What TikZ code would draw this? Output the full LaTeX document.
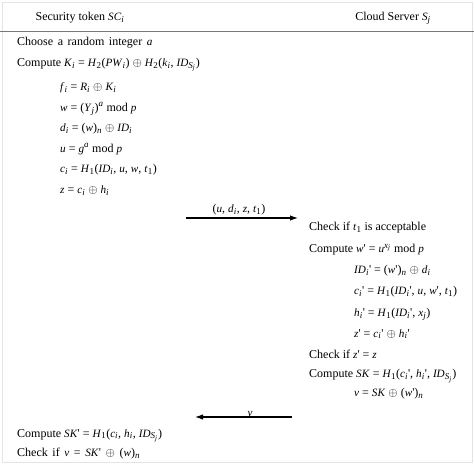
\documentclass[tikz,border=0pt]{standalone}
\usepackage{mathptmx}
\usepackage{fontspec}
\setmainfont{Liberation Serif}
\usetikzlibrary{arrows.meta,positioning}
\definecolor{rulegray}{RGB}{120,120,120}
\definecolor{framegray}{RGB}{228,228,228}
\newcommand{\m}[1]{{\fontsize{11.2}{13}\selectfont\itshape #1\/}}
\newcommand{\low}[1]{\textsubscript{\textit{#1}}}
\newcommand{\high}[1]{\textsuperscript{\textit{#1}}}
\newcommand{\num}[1]{\textsubscript{#1}}
\newcommand{\prm}{\textquotesingle}
\newcommand{\xor}{$\oplus$}

\begin{document}
\begin{tikzpicture}[x=1pt,y=1pt,node distance=7.6pt,
  every node/.style={font=\fontsize{12}{14}\selectfont,inner sep=0pt,text height=9pt,text depth=3.5pt,anchor=base west},
  wide/.style={execute at begin node={\spaceskip=4.6pt plus 1pt}},
  msg/.style={-{Latex[length=8pt,width=5.5pt]},line width=1.1pt}]
  \useasboundingbox (0,0) rectangle (474,-465);
  \draw[framegray] (2,-2) rectangle (472,-462);
  % header
  \node[anchor=base] (sc) at (80,-21) {Security token \m{SC}\low{i}};
  \node[anchor=base] (cs) at (393,-21) {Cloud Server \m{S}\low{j}};
  \draw[rulegray] (0,-31) -- (474,-31);
  % security token side
  \node[wide] (choose) at (17,-46) {Choose a random integer \m{a}};
  \node[below=7.5pt of choose.south west,anchor=north west] (ki)
    {Compute \m{K}\low{i} = \m{H}\num{2}(\m{PW}\low{i}) \xor{} \m{H}\num{2}(\m{k}\low{i}, \m{ID}\low{S\low{j}})};
  \node[below=11.5pt of ki.south west,anchor=north west,xshift=43pt] (fi) {\m{f}\low{i} = \m{R}\low{i} \xor{} \m{K}\low{i}};
  \node[below=of fi.south west,anchor=north west] (w) {\m{w} = (\m{Y}\low{j})\high{a} mod \m{p}};
  \node[below=of w.south west,anchor=north west] (di) {\m{d}\low{i} = (\m{w})\low{n} \xor{} \m{ID}\low{i}};
  \node[below=of di.south west,anchor=north west] (u) {\m{u} = \m{g}\high{a} mod \m{p}};
  \node[below=of u.south west,anchor=north west] (ci) {\m{c}\low{i} = \m{H}\num{1}(\m{ID}\low{i}, \m{u}, \m{w}, \m{t}\num{1})};
  \node[below=of ci.south west,anchor=north west] (z) {\m{z} = \m{c}\low{i} \xor{} \m{h}\low{i}};
  % first message
  \coordinate (m1s) at (186,-218);
  \coordinate (m1e) at (298,-218);
  \draw[msg] (m1s) -- (m1e) node[midway,above=1.5pt,anchor=south,xshift=-3pt] (m1) {(\m{u}, \m{d}\low{i}, \m{z}, \m{t}\num{1})};
  % cloud server side
  \node (chk) at (309,-231) {Check if \m{t}\num{1} is acceptable};
  \node[below=8.5pt of chk.south west,anchor=north west] (wp) {Compute \m{w}\prm{} = \m{u}\high{x\low{j}} mod \m{p}};
  \node[below=8.5pt of wp.south west,anchor=north west,xshift=45pt] (idp) {\m{ID}\low{i}\prm{} = (\m{w}\prm)\low{n} \xor{} \m{d}\low{i}};
  \node[below=8pt of idp.south west,anchor=north west] (cp) {\m{c}\low{i}\prm{} = \m{H}\num{1}(\m{ID}\low{i}\prm, \m{u}, \m{w}\prm, \m{t}\num{1})};
  \node[below=9pt of cp.south west,anchor=north west] (hp) {\m{h}\low{i}\prm{} = \m{H}\num{1}(\m{ID}\low{i}\prm, \m{x}\low{j})};
  \node[below=7.5pt of hp.south west,anchor=north west] (zp) {\m{z}\prm{} = \m{c}\low{i}\prm{} \xor{} \m{h}\low{i}\prm};
  \node[below=8.5pt of zp.south west,anchor=north west,xshift=-45pt] (chz) {Check if \m{z}\prm{} = \m{z}};
  \node[below=6.5pt of chz.south west,anchor=north west] (sk) {Compute \m{SK} = \m{H}\num{1}(\m{c}\low{i}\prm, \m{h}\low{i}\prm, \m{ID}\low{S\low{j}})};
  \node[below=6pt of sk.south west,anchor=north west,xshift=45pt] (v) {\m{v} = \m{SK} \xor{} (\m{w}\prm)\low{n}};
  % second message
  \coordinate (m2s) at (292,-417);
  \coordinate (m2e) at (195,-417);
  \draw[msg] (m2s) -- (m2e);
  \node[anchor=base] (m2) at (250,-416) {\m{v}};
  % back at the token
  \node (skp) at (17,-437) {Compute \m{SK}\prm{} = \m{H}\num{1}(\m{c}\low{i}, \m{h}\low{i}, \m{ID}\low{S\low{j}})};
  \node[wide,below=6.5pt of skp.south west,anchor=north west] (chv) {Check if \m{v} = \m{SK}\prm{} \xor{} (\m{w})\low{n}};
\end{tikzpicture}
\end{document}
